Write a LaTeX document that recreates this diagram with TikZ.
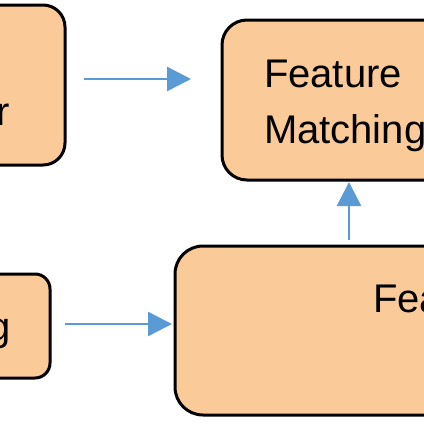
\documentclass[tikz,border=0pt]{standalone}
\usepackage{fontspec}
\setmainfont{Liberation Sans}
\usetikzlibrary{arrows.meta}
\definecolor{boxfill}{RGB}{251,202,153}
\definecolor{arrblue}{RGB}{91,155,213}
\tikzset{
  stagebox/.style={draw=black, line width=3pt, fill=boxfill, inner sep=0pt, outer sep=0pt},
  lbl/.style={inner sep=0pt, outer sep=0pt, font=\fontsize{40}{56}\selectfont, text=black},
  arr/.style={draw=arrblue, line width=2.5pt, -{Triangle[length=24pt,width=24pt]}}
}
\begin{document}
\begin{tikzpicture}[x=1pt,y=-1pt]
\useasboundingbox (0,0) rectangle (424,424);
\clip (0,0) rectangle (424,424);
\fill[white] (0,0) rectangle (424,424);
% boxes
\node[stagebox, rounded corners=22pt, minimum width=215pt, minimum height=160pt] (A) at (-42.5,85) {};
\node[stagebox, rounded corners=25pt, minimum width=378pt, minimum height=160pt] (B) at (411,100) {};
\node[stagebox, rounded corners=15pt, minimum width=200pt, minimum height=104pt] (C) at (-50,326) {};
\node[stagebox, rounded corners=28pt, minimum width=425pt, minimum height=169pt] (D) at (387.5,330.5) {};
% texts
\node[lbl, anchor=base west] (tA) at (-3,125) {r};
\node[lbl, anchor=base west, align=left] (tB) at (264,143) {Feature\\Matching};
\node[lbl, anchor=base west] (tC) at (-12,340) {g};
\node[lbl, anchor=base west] (tD) at (373,312) {Fea};
% connectors
\draw[arr] ([xshift=19pt,yshift=6pt]A.east) -- ([xshift=-31pt,yshift=21pt]B.west);
\draw[arr] ([xshift=15pt,yshift=2pt]C.east) -- ([xshift=-3pt,yshift=6.5pt]D.west);
\draw[arr] ([xshift=-38.5pt,yshift=6pt]D.north) -- ([xshift=-62pt,yshift=-2pt]B.south);
\end{tikzpicture}
\end{document}
